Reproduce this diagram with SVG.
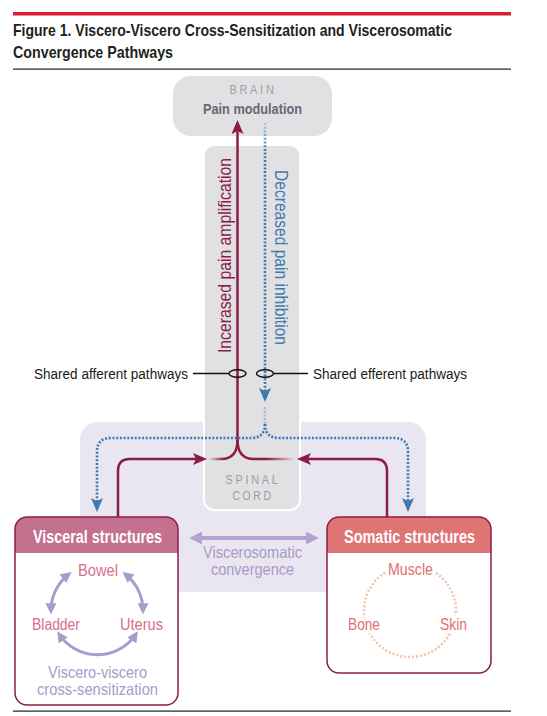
<svg xmlns="http://www.w3.org/2000/svg" width="547" height="716" viewBox="0 0 547 716">
<defs>
<style>
text{font-family:"Liberation Sans",Arial,sans-serif}
.title{font-size:17px;font-weight:bold;fill:#231f20}
.cap{font-size:12px;fill:#9d9da3;letter-spacing:3px;text-anchor:middle}
.pm{font-size:15.5px;font-weight:bold;fill:#686874;text-anchor:middle}
.lbl{font-size:15.5px;fill:#1a1a1a}
.hdr{font-size:17.5px;font-weight:bold;fill:#fff;text-anchor:middle}
.vis{font-size:16.5px;fill:#d66f8c;text-anchor:middle}
.som{font-size:16.5px;fill:#e07070;text-anchor:middle;stroke:#fff;stroke-width:7px;paint-order:stroke;stroke-linejoin:round}
.lav{font-size:16.5px;fill:#a89ac9;text-anchor:middle}
.red{fill:none;stroke:#8c1c46;stroke-width:2.5}
.blue{fill:none;stroke:#3f7ab0;stroke-width:2.6;stroke-dasharray:2 1.7}
.lead{fill:none;stroke:#111;stroke-width:1.5}
.box{fill:none;stroke:#8c1c46;stroke-width:1.5}
</style>
<marker id="arR" markerUnits="userSpaceOnUse" markerWidth="14" markerHeight="12" viewBox="0 0 14 12" refX="11" refY="6" orient="auto"><path d="M0,0 L14,6 L0,12 L3,6 z" fill="#8c1c46"/></marker>
<marker id="arB" markerUnits="userSpaceOnUse" markerWidth="14" markerHeight="12" viewBox="0 0 14 12" refX="11" refY="6" orient="auto"><path d="M0,0 L14,6 L0,12 L3,6 z" fill="#3f7ab0"/></marker>
<marker id="arL" markerUnits="userSpaceOnUse" markerWidth="11" markerHeight="11" viewBox="0 0 10 10" refX="7" refY="5" orient="auto-start-reverse"><path d="M0,0 L10,5 L0,10 z" fill="#a99bcb"/></marker>
<marker id="arC" markerUnits="userSpaceOnUse" markerWidth="13" markerHeight="13" viewBox="0 0 10 10" refX="7" refY="5" orient="auto-start-reverse"><path d="M0,0 L10,5 L0,10 z" fill="#b3a3cf"/></marker>
<linearGradient id="gBlue" gradientUnits="userSpaceOnUse" x1="0" y1="123" x2="0" y2="152"><stop offset="0" stop-color="#3f7ab0" stop-opacity="0.3"/><stop offset="1" stop-color="#3f7ab0"/></linearGradient>
<linearGradient id="gL" gradientUnits="userSpaceOnUse" x1="224" y1="0" x2="209" y2="0"><stop offset="0" stop-color="#8c1c46"/><stop offset="1" stop-color="#8c1c46" stop-opacity="0"/></linearGradient>
<linearGradient id="gR" gradientUnits="userSpaceOnUse" x1="266" y1="0" x2="295" y2="0"><stop offset="0" stop-color="#8c1c46"/><stop offset="1" stop-color="#8c1c46" stop-opacity="0"/></linearGradient>
</defs>

<g id="header">
<rect x="13" y="12" width="498" height="3.5" fill="#d71e35"/>
<text class="title" x="13" y="35.5" textLength="439" lengthAdjust="spacingAndGlyphs">Figure 1. Viscero-Viscero Cross-Sensitization and Viscerosomatic</text>
<text class="title" x="13" y="58" textLength="160" lengthAdjust="spacingAndGlyphs">Convergence Pathways</text>
<rect x="13" y="68.5" width="498" height="1.2" fill="#231f20"/>
<rect x="13" y="710.5" width="498" height="1.2" fill="#231f20"/>
</g>

<g id="convergence-zone">
<rect x="80" y="422" width="346" height="170" rx="18" fill="#e9e6f1"/>
</g>

<g id="spinal-cord">
<rect x="204" y="145" width="96" height="365" rx="10" fill="#e1e1e3" stroke="#fff" stroke-width="2"/>
<text class="cap" x="253" y="484" textLength="55" lengthAdjust="spacingAndGlyphs">SPINAL</text>
<text class="cap" x="253" y="500" textLength="41" lengthAdjust="spacingAndGlyphs">CORD</text>
</g>

<g id="brain">
<rect x="173" y="76" width="159" height="60" rx="18" fill="#e1e1e3"/>
<text class="cap" x="253" y="94" textLength="47" lengthAdjust="spacingAndGlyphs">BRAIN</text>
<text class="pm" x="252.5" y="113.5" textLength="99" lengthAdjust="spacingAndGlyphs">Pain modulation</text>
</g>

<g id="connectors">
<path class="red" d="M237.5 442 V123" marker-end="url(#arR)"/>
<path d="M237.5 440 Q237.5 459 221 459 H209" fill="none" stroke="url(#gL)" stroke-width="2.5"/>
<path d="M237.5 440 Q237.5 459 254 459 H295" fill="none" stroke="url(#gR)" stroke-width="2.5"/>
<path class="red" d="M118 518 V471 Q118 459 130 459 H204" marker-end="url(#arR)"/>
<path class="red" d="M387 518 V471 Q387 459 375 459 H300" marker-end="url(#arR)"/>
<path d="M265 123 V399" fill="none" stroke="url(#gBlue)" stroke-width="2.6" stroke-dasharray="2 1.7" marker-end="url(#arB)"/>
<path class="blue" d="M265 407 V424" stroke-opacity="0.35"/>
<path class="blue" d="M265 424 Q265 438 251 438 H111 Q97 438 97 452 V509" marker-end="url(#arB)"/>
<path class="blue" d="M265 424 Q265 438 279 438 H394 Q408 438 408 452 V509" marker-end="url(#arB)"/>
<path d="M193 538 H315" fill="none" stroke="#b3a3cf" stroke-width="4" marker-start="url(#arC)" marker-end="url(#arC)"/>
</g>

<g id="pathway-labels">
<text class="lbl" x="188" y="378.5" text-anchor="end" textLength="154" lengthAdjust="spacingAndGlyphs">Shared afferent pathways</text>
<path class="lead" d="M193 373.5 H229"/>
<ellipse class="lead" cx="237.5" cy="373.5" rx="8.5" ry="3.8" stroke-width="1.3"/>
<ellipse class="lead" cx="265" cy="373.5" rx="8.5" ry="3.8" stroke-width="1.3"/>
<path class="lead" d="M273.5 373.5 H308"/>
<text class="lbl" x="313" y="378.5" textLength="154" lengthAdjust="spacingAndGlyphs">Shared efferent pathways</text>
<text transform="translate(230.5,255.5) rotate(-90)" text-anchor="middle" font-size="18.5" fill="#8c1c46" textLength="195" lengthAdjust="spacingAndGlyphs">Incerased pain amplification</text>
<text transform="translate(275,257.5) rotate(90)" text-anchor="middle" font-size="18.5" fill="#3f7ab0" textLength="175" lengthAdjust="spacingAndGlyphs">Decreased pain inhibition</text>
<text class="lav" x="252.5" y="558" textLength="99" lengthAdjust="spacingAndGlyphs">Viscerosomatic</text>
<text class="lav" x="252.5" y="575" textLength="83" lengthAdjust="spacingAndGlyphs">convergence</text>
</g>

<g id="visceral">
<rect x="15" y="517" width="163" height="188" rx="12" fill="#fff"/>
<path d="M15 553 V529 A12 12 0 0 1 27 517 H166 A12 12 0 0 1 178 529 V553 Z" fill="#c4708f"/>
<rect class="box" x="15" y="517" width="163" height="188" rx="12"/>
<text class="hdr" x="97.5" y="542.5" textLength="129" lengthAdjust="spacingAndGlyphs">Visceral structures</text>
<path d="M69 574 A46 46 0 0 0 51 611" fill="none" stroke="#a99bcb" stroke-width="3" marker-start="url(#arL)" marker-end="url(#arL)"/>
<path d="M125 574 A46 46 0 0 1 143 611" fill="none" stroke="#a99bcb" stroke-width="3" marker-start="url(#arL)" marker-end="url(#arL)"/>
<path d="M59 634 A46 46 0 0 0 136 634" fill="none" stroke="#a99bcb" stroke-width="3" marker-start="url(#arL)" marker-end="url(#arL)"/>
<text class="vis" x="98" y="576" textLength="40" lengthAdjust="spacingAndGlyphs">Bowel</text>
<text class="vis" x="56" y="630" textLength="48" lengthAdjust="spacingAndGlyphs">Bladder</text>
<text class="vis" x="141.5" y="630" textLength="43" lengthAdjust="spacingAndGlyphs">Uterus</text>
<text class="lav" x="97.5" y="678" textLength="99" lengthAdjust="spacingAndGlyphs">Viscero-viscero</text>
<text class="lav" x="97.5" y="695" textLength="121" lengthAdjust="spacingAndGlyphs">cross-sensitization</text>
</g>

<g id="somatic">
<rect x="327" y="517" width="164" height="156" rx="12" fill="#fff"/>
<path d="M327 553 V529 A12 12 0 0 1 339 517 H479 A12 12 0 0 1 491 529 V553 Z" fill="#de7474"/>
<rect class="box" x="327" y="517" width="164" height="156" rx="12"/>
<text class="hdr" x="409.5" y="542.5" textLength="131" lengthAdjust="spacingAndGlyphs">Somatic structures</text>
<circle cx="410" cy="611" r="46" fill="none" stroke="#f2c3a8" stroke-width="2.5" stroke-dasharray="2 2"/>
<text class="som" x="410.5" y="575" textLength="45" lengthAdjust="spacingAndGlyphs">Muscle</text>
<text class="som" x="364" y="629.5" textLength="32" lengthAdjust="spacingAndGlyphs">Bone</text>
<text class="som" x="453.5" y="629.5" textLength="27" lengthAdjust="spacingAndGlyphs">Skin</text>
</g>
</svg>
